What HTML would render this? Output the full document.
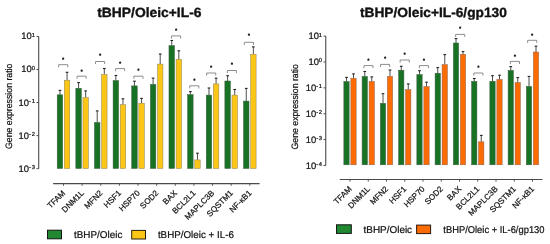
<!DOCTYPE html>
<html><head><meta charset="utf-8"><style>
html,body{margin:0;padding:0;background:#fff;width:550px;height:244px;overflow:hidden}
svg{display:block}
</style></head><body>
<svg width="550" height="244" viewBox="0 0 550 244" font-family='"Liberation Sans", Arial, Helvetica, sans-serif' text-rendering="geometricPrecision" fill="#111" stroke="#111" stroke-width="0.22">
<text x="97.2" y="17.1" font-size="13.4" font-weight="bold" stroke-width="0.35" textLength="104.3" lengthAdjust="spacingAndGlyphs">tBHP/Oleic+IL-6</text>
<text x="359.9" y="17.1" font-size="13.4" font-weight="bold" stroke-width="0.35" textLength="147.0" lengthAdjust="spacingAndGlyphs">tBHP/Oleic+IL-6/gp130</text>
<line x1="38.7" y1="36.4" x2="38.7" y2="168.68" stroke="#4a4a4a" stroke-width="1.1"/>
<line x1="36.50" y1="36.40" x2="38.7" y2="36.40" stroke="#4a4a4a" stroke-width="1"/>
<text x="35.0" y="39.40" text-anchor="end" font-size="9.4">10<tspan font-size="5.8" dy="-2.5">1</tspan></text>
<line x1="36.50" y1="69.47" x2="38.7" y2="69.47" stroke="#4a4a4a" stroke-width="1"/>
<text x="35.0" y="72.47" text-anchor="end" font-size="9.4">10<tspan font-size="5.8" dy="-2.5">0</tspan></text>
<line x1="36.50" y1="102.54" x2="38.7" y2="102.54" stroke="#4a4a4a" stroke-width="1"/>
<text x="35.0" y="105.54" text-anchor="end" font-size="9.4">10<tspan font-size="5.8" dy="-2.5">-<tspan dx="0.8">1</tspan></tspan></text>
<line x1="36.50" y1="135.61" x2="38.7" y2="135.61" stroke="#4a4a4a" stroke-width="1"/>
<text x="35.0" y="138.61" text-anchor="end" font-size="9.4">10<tspan font-size="5.8" dy="-2.5">-<tspan dx="0.8">2</tspan></tspan></text>
<line x1="36.50" y1="168.68" x2="38.7" y2="168.68" stroke="#4a4a4a" stroke-width="1"/>
<text x="35.0" y="171.68" text-anchor="end" font-size="9.4">10<tspan font-size="5.8" dy="-2.5">-<tspan dx="0.8">3</tspan></tspan></text>
<text transform="translate(12.2,106.3) rotate(-90)" x="-42.7" font-size="9.3" textLength="85.4" lengthAdjust="spacingAndGlyphs">Gene expression ratio</text>
<line x1="59.95" y1="90.40" x2="59.95" y2="94.80" stroke="#3a3a3a" stroke-width="0.9"/>
<line x1="58.60" y1="90.40" x2="61.30" y2="90.40" stroke="#222" stroke-width="1.1"/>
<rect x="57.20" y="94.80" width="5.50" height="73.70" fill="#187224" stroke="#3c5a40" stroke-width="0.5"/>
<line x1="67.05" y1="72.30" x2="67.05" y2="80.20" stroke="#3a3a3a" stroke-width="0.9"/>
<line x1="65.70" y1="72.30" x2="68.40" y2="72.30" stroke="#222" stroke-width="1.1"/>
<rect x="64.30" y="80.20" width="5.50" height="88.30" fill="#fcc616" stroke="#8a8060" stroke-width="0.5"/>
<path d="M58.65 67.30V64.70H67.75V67.30" fill="none" stroke="#808080" stroke-width="0.9"/>
<text x="63.20" y="61" text-anchor="middle" font-size="4.7" font-weight="bold" stroke="#222" stroke-width="0.45" text-rendering="geometricPrecision">*</text>
<line x1="78.58" y1="82.60" x2="78.58" y2="88.30" stroke="#3a3a3a" stroke-width="0.9"/>
<line x1="77.23" y1="82.60" x2="79.93" y2="82.60" stroke="#222" stroke-width="1.1"/>
<rect x="75.83" y="88.30" width="5.50" height="80.20" fill="#187224" stroke="#3c5a40" stroke-width="0.5"/>
<line x1="85.68" y1="90.90" x2="85.68" y2="97.60" stroke="#3a3a3a" stroke-width="0.9"/>
<line x1="84.33" y1="90.90" x2="87.03" y2="90.90" stroke="#222" stroke-width="1.1"/>
<rect x="82.93" y="97.60" width="5.50" height="70.90" fill="#fcc616" stroke="#8a8060" stroke-width="0.5"/>
<path d="M77.05 78.80V76.20H86.15V78.80" fill="none" stroke="#808080" stroke-width="0.9"/>
<text x="81.60" y="73" text-anchor="middle" font-size="4.7" font-weight="bold" stroke="#222" stroke-width="0.45" text-rendering="geometricPrecision">*</text>
<line x1="97.21" y1="110.90" x2="97.21" y2="122.50" stroke="#3a3a3a" stroke-width="0.9"/>
<line x1="95.86" y1="110.90" x2="98.56" y2="110.90" stroke="#222" stroke-width="1.1"/>
<rect x="94.46" y="122.50" width="5.50" height="46.00" fill="#187224" stroke="#3c5a40" stroke-width="0.5"/>
<line x1="104.31" y1="68.50" x2="104.31" y2="74.50" stroke="#3a3a3a" stroke-width="0.9"/>
<line x1="102.96" y1="68.50" x2="105.66" y2="68.50" stroke="#222" stroke-width="1.1"/>
<rect x="101.56" y="74.50" width="5.50" height="94.00" fill="#fcc616" stroke="#8a8060" stroke-width="0.5"/>
<path d="M95.55 64.10V61.50H104.65V64.10" fill="none" stroke="#808080" stroke-width="0.9"/>
<text x="100.10" y="57" text-anchor="middle" font-size="4.7" font-weight="bold" stroke="#222" stroke-width="0.45" text-rendering="geometricPrecision">*</text>
<line x1="115.84" y1="75.50" x2="115.84" y2="80.50" stroke="#3a3a3a" stroke-width="0.9"/>
<line x1="114.49" y1="75.50" x2="117.19" y2="75.50" stroke="#222" stroke-width="1.1"/>
<rect x="113.09" y="80.50" width="5.50" height="88.00" fill="#187224" stroke="#3c5a40" stroke-width="0.5"/>
<line x1="122.94" y1="98.80" x2="122.94" y2="104.70" stroke="#3a3a3a" stroke-width="0.9"/>
<line x1="121.59" y1="98.80" x2="124.29" y2="98.80" stroke="#222" stroke-width="1.1"/>
<rect x="120.19" y="104.70" width="5.50" height="63.80" fill="#fcc616" stroke="#8a8060" stroke-width="0.5"/>
<path d="M115.55 71.20V68.60H124.65V71.20" fill="none" stroke="#808080" stroke-width="0.9"/>
<text x="120.10" y="65" text-anchor="middle" font-size="4.7" font-weight="bold" stroke="#222" stroke-width="0.45" text-rendering="geometricPrecision">*</text>
<line x1="134.47" y1="81.20" x2="134.47" y2="85.90" stroke="#3a3a3a" stroke-width="0.9"/>
<line x1="133.12" y1="81.20" x2="135.82" y2="81.20" stroke="#222" stroke-width="1.1"/>
<rect x="131.72" y="85.90" width="5.50" height="82.60" fill="#187224" stroke="#3c5a40" stroke-width="0.5"/>
<line x1="141.57" y1="98.40" x2="141.57" y2="103.20" stroke="#3a3a3a" stroke-width="0.9"/>
<line x1="140.22" y1="98.40" x2="142.92" y2="98.40" stroke="#222" stroke-width="1.1"/>
<rect x="138.82" y="103.20" width="5.50" height="65.30" fill="#fcc616" stroke="#8a8060" stroke-width="0.5"/>
<path d="M133.85 78.80V76.20H142.95V78.80" fill="none" stroke="#808080" stroke-width="0.9"/>
<text x="138.40" y="72" text-anchor="middle" font-size="4.7" font-weight="bold" stroke="#222" stroke-width="0.45" text-rendering="geometricPrecision">*</text>
<line x1="153.10" y1="78.10" x2="153.10" y2="84.40" stroke="#3a3a3a" stroke-width="0.9"/>
<line x1="151.75" y1="78.10" x2="154.45" y2="78.10" stroke="#222" stroke-width="1.1"/>
<rect x="150.35" y="84.40" width="5.50" height="84.10" fill="#187224" stroke="#3c5a40" stroke-width="0.5"/>
<line x1="160.20" y1="54.00" x2="160.20" y2="64.10" stroke="#3a3a3a" stroke-width="0.9"/>
<line x1="158.85" y1="54.00" x2="161.55" y2="54.00" stroke="#222" stroke-width="1.1"/>
<rect x="157.45" y="64.10" width="5.50" height="104.40" fill="#fcc616" stroke="#8a8060" stroke-width="0.5"/>
<line x1="171.73" y1="40.50" x2="171.73" y2="45.60" stroke="#3a3a3a" stroke-width="0.9"/>
<line x1="170.38" y1="40.50" x2="173.08" y2="40.50" stroke="#222" stroke-width="1.1"/>
<rect x="168.98" y="45.60" width="5.50" height="122.90" fill="#187224" stroke="#3c5a40" stroke-width="0.5"/>
<line x1="178.83" y1="50.80" x2="178.83" y2="59.30" stroke="#3a3a3a" stroke-width="0.9"/>
<line x1="177.48" y1="50.80" x2="180.18" y2="50.80" stroke="#222" stroke-width="1.1"/>
<rect x="176.08" y="59.30" width="5.50" height="109.20" fill="#fcc616" stroke="#8a8060" stroke-width="0.5"/>
<path d="M171.55 38.50V35.90H180.65V38.50" fill="none" stroke="#808080" stroke-width="0.9"/>
<text x="176.10" y="32" text-anchor="middle" font-size="4.7" font-weight="bold" stroke="#222" stroke-width="0.45" text-rendering="geometricPrecision">*</text>
<line x1="190.36" y1="91.60" x2="190.36" y2="94.70" stroke="#3a3a3a" stroke-width="0.9"/>
<line x1="189.01" y1="91.60" x2="191.71" y2="91.60" stroke="#222" stroke-width="1.1"/>
<rect x="187.61" y="94.70" width="5.50" height="73.80" fill="#187224" stroke="#3c5a40" stroke-width="0.5"/>
<line x1="197.46" y1="153.20" x2="197.46" y2="159.90" stroke="#3a3a3a" stroke-width="0.9"/>
<line x1="196.11" y1="153.20" x2="198.81" y2="153.20" stroke="#222" stroke-width="1.1"/>
<rect x="194.71" y="159.90" width="5.50" height="8.60" fill="#fcc616" stroke="#8a8060" stroke-width="0.5"/>
<path d="M189.75 88.40V85.80H198.85V88.40" fill="none" stroke="#808080" stroke-width="0.9"/>
<text x="194.30" y="82" text-anchor="middle" font-size="4.7" font-weight="bold" stroke="#222" stroke-width="0.45" text-rendering="geometricPrecision">*</text>
<line x1="208.99" y1="88.00" x2="208.99" y2="95.10" stroke="#3a3a3a" stroke-width="0.9"/>
<line x1="207.64" y1="88.00" x2="210.34" y2="88.00" stroke="#222" stroke-width="1.1"/>
<rect x="206.24" y="95.10" width="5.50" height="73.40" fill="#187224" stroke="#3c5a40" stroke-width="0.5"/>
<line x1="216.09" y1="78.20" x2="216.09" y2="83.90" stroke="#3a3a3a" stroke-width="0.9"/>
<line x1="214.74" y1="78.20" x2="217.44" y2="78.20" stroke="#222" stroke-width="1.1"/>
<rect x="213.34" y="83.90" width="5.50" height="84.60" fill="#fcc616" stroke="#8a8060" stroke-width="0.5"/>
<path d="M206.65 75.60V73.00H215.75V75.60" fill="none" stroke="#808080" stroke-width="0.9"/>
<text x="211.20" y="69" text-anchor="middle" font-size="4.7" font-weight="bold" stroke="#222" stroke-width="0.45" text-rendering="geometricPrecision">*</text>
<line x1="227.62" y1="75.70" x2="227.62" y2="81.00" stroke="#3a3a3a" stroke-width="0.9"/>
<line x1="226.27" y1="75.70" x2="228.97" y2="75.70" stroke="#222" stroke-width="1.1"/>
<rect x="224.87" y="81.00" width="5.50" height="87.50" fill="#187224" stroke="#3c5a40" stroke-width="0.5"/>
<line x1="234.72" y1="89.50" x2="234.72" y2="95.10" stroke="#3a3a3a" stroke-width="0.9"/>
<line x1="233.37" y1="89.50" x2="236.07" y2="89.50" stroke="#222" stroke-width="1.1"/>
<rect x="231.97" y="95.10" width="5.50" height="73.40" fill="#fcc616" stroke="#8a8060" stroke-width="0.5"/>
<path d="M227.35 73.10V70.50H236.45V73.10" fill="none" stroke="#808080" stroke-width="0.9"/>
<text x="231.90" y="66" text-anchor="middle" font-size="4.7" font-weight="bold" stroke="#222" stroke-width="0.45" text-rendering="geometricPrecision">*</text>
<line x1="246.25" y1="88.40" x2="246.25" y2="101.10" stroke="#3a3a3a" stroke-width="0.9"/>
<line x1="244.90" y1="88.40" x2="247.60" y2="88.40" stroke="#222" stroke-width="1.1"/>
<rect x="243.50" y="101.10" width="5.50" height="67.40" fill="#187224" stroke="#3c5a40" stroke-width="0.5"/>
<line x1="253.35" y1="46.90" x2="253.35" y2="54.20" stroke="#3a3a3a" stroke-width="0.9"/>
<line x1="252.00" y1="46.90" x2="254.70" y2="46.90" stroke="#222" stroke-width="1.1"/>
<rect x="250.60" y="54.20" width="5.50" height="114.30" fill="#fcc616" stroke="#8a8060" stroke-width="0.5"/>
<path d="M244.35 44.90V42.30H253.45V44.90" fill="none" stroke="#808080" stroke-width="0.9"/>
<text x="248.90" y="37" text-anchor="middle" font-size="4.7" font-weight="bold" stroke="#222" stroke-width="0.45" text-rendering="geometricPrecision">*</text>
<line x1="53.1" y1="183.6" x2="259.6" y2="183.6" stroke="#4a4a4a" stroke-width="1.2"/>
<line x1="63.50" y1="183.6" x2="63.50" y2="185.79999999999998" stroke="#4a4a4a" stroke-width="0.9"/>
<text transform="translate(65.80,193.60) rotate(-45)" text-anchor="end" font-size="8.1">TFAM</text>
<line x1="82.13" y1="183.6" x2="82.13" y2="185.79999999999998" stroke="#4a4a4a" stroke-width="0.9"/>
<text transform="translate(84.43,193.60) rotate(-45)" text-anchor="end" font-size="8.1">DNM1L</text>
<line x1="100.76" y1="183.6" x2="100.76" y2="185.79999999999998" stroke="#4a4a4a" stroke-width="0.9"/>
<text transform="translate(103.06,193.60) rotate(-45)" text-anchor="end" font-size="8.1">MFN2</text>
<line x1="119.39" y1="183.6" x2="119.39" y2="185.79999999999998" stroke="#4a4a4a" stroke-width="0.9"/>
<text transform="translate(121.69,193.60) rotate(-45)" text-anchor="end" font-size="8.1">HSF1</text>
<line x1="138.02" y1="183.6" x2="138.02" y2="185.79999999999998" stroke="#4a4a4a" stroke-width="0.9"/>
<text transform="translate(140.32,193.60) rotate(-45)" text-anchor="end" font-size="8.1">HSP70</text>
<line x1="156.65" y1="183.6" x2="156.65" y2="185.79999999999998" stroke="#4a4a4a" stroke-width="0.9"/>
<text transform="translate(158.95,193.60) rotate(-45)" text-anchor="end" font-size="8.1">SOD2</text>
<line x1="175.28" y1="183.6" x2="175.28" y2="185.79999999999998" stroke="#4a4a4a" stroke-width="0.9"/>
<text transform="translate(177.58,193.60) rotate(-45)" text-anchor="end" font-size="8.1">BAX</text>
<line x1="193.91" y1="183.6" x2="193.91" y2="185.79999999999998" stroke="#4a4a4a" stroke-width="0.9"/>
<text transform="translate(196.21,193.60) rotate(-45)" text-anchor="end" font-size="8.1">BCL2L1</text>
<line x1="212.54" y1="183.6" x2="212.54" y2="185.79999999999998" stroke="#4a4a4a" stroke-width="0.9"/>
<text transform="translate(214.84,193.60) rotate(-45)" text-anchor="end" font-size="8.1">MAPLC3B</text>
<line x1="231.17" y1="183.6" x2="231.17" y2="185.79999999999998" stroke="#4a4a4a" stroke-width="0.9"/>
<text transform="translate(233.47,193.60) rotate(-45)" text-anchor="end" font-size="8.1">SQSTM1</text>
<line x1="249.80" y1="183.6" x2="249.80" y2="185.79999999999998" stroke="#4a4a4a" stroke-width="0.9"/>
<text transform="translate(252.10,193.60) rotate(-45)" text-anchor="end" font-size="8.1">NF-κB1</text>
<line x1="325.75" y1="36.1" x2="325.75" y2="165.50" stroke="#4a4a4a" stroke-width="1.1"/>
<line x1="323.55" y1="36.10" x2="325.75" y2="36.10" stroke="#4a4a4a" stroke-width="1"/>
<text x="322.1" y="39.10" text-anchor="end" font-size="9.4">10<tspan font-size="5.8" dy="-2.5">1</tspan></text>
<line x1="323.55" y1="61.98" x2="325.75" y2="61.98" stroke="#4a4a4a" stroke-width="1"/>
<text x="322.1" y="64.98" text-anchor="end" font-size="9.4">10<tspan font-size="5.8" dy="-2.5">0</tspan></text>
<line x1="323.55" y1="87.86" x2="325.75" y2="87.86" stroke="#4a4a4a" stroke-width="1"/>
<text x="322.1" y="90.86" text-anchor="end" font-size="9.4">10<tspan font-size="5.8" dy="-2.5">-<tspan dx="0.8">1</tspan></tspan></text>
<line x1="323.55" y1="113.74" x2="325.75" y2="113.74" stroke="#4a4a4a" stroke-width="1"/>
<text x="322.1" y="116.74" text-anchor="end" font-size="9.4">10<tspan font-size="5.8" dy="-2.5">-<tspan dx="0.8">2</tspan></tspan></text>
<line x1="323.55" y1="139.62" x2="325.75" y2="139.62" stroke="#4a4a4a" stroke-width="1"/>
<text x="322.1" y="142.62" text-anchor="end" font-size="9.4">10<tspan font-size="5.8" dy="-2.5">-<tspan dx="0.8">3</tspan></tspan></text>
<line x1="323.55" y1="165.50" x2="325.75" y2="165.50" stroke="#4a4a4a" stroke-width="1"/>
<text x="322.1" y="168.50" text-anchor="end" font-size="9.4">10<tspan font-size="5.8" dy="-2.5">-<tspan dx="0.8">4</tspan></tspan></text>
<text transform="translate(298.2,106.8) rotate(-90)" x="-42.7" font-size="9.3" textLength="85.4" lengthAdjust="spacingAndGlyphs">Gene expression ratio</text>
<line x1="346.50" y1="77.40" x2="346.50" y2="81.50" stroke="#3a3a3a" stroke-width="0.9"/>
<line x1="345.15" y1="77.40" x2="347.85" y2="77.40" stroke="#222" stroke-width="1.1"/>
<rect x="343.85" y="81.50" width="5.30" height="83.30" fill="#187224" stroke="#3c5a40" stroke-width="0.5"/>
<line x1="353.50" y1="73.90" x2="353.50" y2="78.30" stroke="#3a3a3a" stroke-width="0.9"/>
<line x1="352.15" y1="73.90" x2="354.85" y2="73.90" stroke="#222" stroke-width="1.1"/>
<rect x="350.85" y="78.30" width="5.30" height="86.50" fill="#fd6c02" stroke="#8a6050" stroke-width="0.5"/>
<line x1="364.75" y1="71.50" x2="364.75" y2="76.40" stroke="#3a3a3a" stroke-width="0.9"/>
<line x1="363.40" y1="71.50" x2="366.10" y2="71.50" stroke="#222" stroke-width="1.1"/>
<rect x="362.10" y="76.40" width="5.30" height="88.40" fill="#187224" stroke="#3c5a40" stroke-width="0.5"/>
<line x1="371.75" y1="76.90" x2="371.75" y2="81.50" stroke="#3a3a3a" stroke-width="0.9"/>
<line x1="370.40" y1="76.90" x2="373.10" y2="76.90" stroke="#222" stroke-width="1.1"/>
<rect x="369.10" y="81.50" width="5.30" height="83.30" fill="#fd6c02" stroke="#8a6050" stroke-width="0.5"/>
<path d="M363.95 68.20V65.60H373.05V68.20" fill="none" stroke="#808080" stroke-width="0.9"/>
<text x="368.50" y="62" text-anchor="middle" font-size="4.7" font-weight="bold" stroke="#222" stroke-width="0.45" text-rendering="geometricPrecision">*</text>
<line x1="383.00" y1="93.70" x2="383.00" y2="103.30" stroke="#3a3a3a" stroke-width="0.9"/>
<line x1="381.65" y1="93.70" x2="384.35" y2="93.70" stroke="#222" stroke-width="1.1"/>
<rect x="380.35" y="103.30" width="5.30" height="61.50" fill="#187224" stroke="#3c5a40" stroke-width="0.5"/>
<line x1="390.00" y1="70.00" x2="390.00" y2="76.40" stroke="#3a3a3a" stroke-width="0.9"/>
<line x1="388.65" y1="70.00" x2="391.35" y2="70.00" stroke="#222" stroke-width="1.1"/>
<rect x="387.35" y="76.40" width="5.30" height="88.40" fill="#fd6c02" stroke="#8a6050" stroke-width="0.5"/>
<path d="M380.55 67.00V64.40H389.65V67.00" fill="none" stroke="#808080" stroke-width="0.9"/>
<text x="385.10" y="60" text-anchor="middle" font-size="4.7" font-weight="bold" stroke="#222" stroke-width="0.45" text-rendering="geometricPrecision">*</text>
<line x1="401.25" y1="66.30" x2="401.25" y2="70.20" stroke="#3a3a3a" stroke-width="0.9"/>
<line x1="399.90" y1="66.30" x2="402.60" y2="66.30" stroke="#222" stroke-width="1.1"/>
<rect x="398.60" y="70.20" width="5.30" height="94.60" fill="#187224" stroke="#3c5a40" stroke-width="0.5"/>
<line x1="408.25" y1="83.90" x2="408.25" y2="89.70" stroke="#3a3a3a" stroke-width="0.9"/>
<line x1="406.90" y1="83.90" x2="409.60" y2="83.90" stroke="#222" stroke-width="1.1"/>
<rect x="405.60" y="89.70" width="5.30" height="75.10" fill="#fd6c02" stroke="#8a6050" stroke-width="0.5"/>
<path d="M400.15 62.60V60.00H409.25V62.60" fill="none" stroke="#808080" stroke-width="0.9"/>
<text x="404.70" y="56" text-anchor="middle" font-size="4.7" font-weight="bold" stroke="#222" stroke-width="0.45" text-rendering="geometricPrecision">*</text>
<line x1="419.50" y1="70.70" x2="419.50" y2="74.60" stroke="#3a3a3a" stroke-width="0.9"/>
<line x1="418.15" y1="70.70" x2="420.85" y2="70.70" stroke="#222" stroke-width="1.1"/>
<rect x="416.85" y="74.60" width="5.30" height="90.20" fill="#187224" stroke="#3c5a40" stroke-width="0.5"/>
<line x1="426.50" y1="82.20" x2="426.50" y2="86.70" stroke="#3a3a3a" stroke-width="0.9"/>
<line x1="425.15" y1="82.20" x2="427.85" y2="82.20" stroke="#222" stroke-width="1.1"/>
<rect x="423.85" y="86.70" width="5.30" height="78.10" fill="#fd6c02" stroke="#8a6050" stroke-width="0.5"/>
<path d="M419.35 68.20V65.60H428.45V68.20" fill="none" stroke="#808080" stroke-width="0.9"/>
<text x="423.90" y="62" text-anchor="middle" font-size="4.7" font-weight="bold" stroke="#222" stroke-width="0.45" text-rendering="geometricPrecision">*</text>
<line x1="437.75" y1="67.60" x2="437.75" y2="73.20" stroke="#3a3a3a" stroke-width="0.9"/>
<line x1="436.40" y1="67.60" x2="439.10" y2="67.60" stroke="#222" stroke-width="1.1"/>
<rect x="435.10" y="73.20" width="5.30" height="91.60" fill="#187224" stroke="#3c5a40" stroke-width="0.5"/>
<line x1="444.75" y1="54.60" x2="444.75" y2="64.60" stroke="#3a3a3a" stroke-width="0.9"/>
<line x1="443.40" y1="54.60" x2="446.10" y2="54.60" stroke="#222" stroke-width="1.1"/>
<rect x="442.10" y="64.60" width="5.30" height="100.20" fill="#fd6c02" stroke="#8a6050" stroke-width="0.5"/>
<line x1="456.00" y1="38.60" x2="456.00" y2="43.00" stroke="#3a3a3a" stroke-width="0.9"/>
<line x1="454.65" y1="38.60" x2="457.35" y2="38.60" stroke="#222" stroke-width="1.1"/>
<rect x="453.35" y="43.00" width="5.30" height="121.80" fill="#187224" stroke="#3c5a40" stroke-width="0.5"/>
<line x1="463.00" y1="51.60" x2="463.00" y2="54.30" stroke="#3a3a3a" stroke-width="0.9"/>
<line x1="461.65" y1="51.60" x2="464.35" y2="51.60" stroke="#222" stroke-width="1.1"/>
<rect x="460.35" y="54.30" width="5.30" height="110.50" fill="#fd6c02" stroke="#8a6050" stroke-width="0.5"/>
<path d="M455.65 37.00V34.40H464.75V37.00" fill="none" stroke="#808080" stroke-width="0.9"/>
<text x="460.20" y="30" text-anchor="middle" font-size="4.7" font-weight="bold" stroke="#222" stroke-width="0.45" text-rendering="geometricPrecision">*</text>
<line x1="474.25" y1="78.50" x2="474.25" y2="81.40" stroke="#3a3a3a" stroke-width="0.9"/>
<line x1="472.90" y1="78.50" x2="475.60" y2="78.50" stroke="#222" stroke-width="1.1"/>
<rect x="471.60" y="81.40" width="5.30" height="83.40" fill="#187224" stroke="#3c5a40" stroke-width="0.5"/>
<line x1="481.25" y1="135.40" x2="481.25" y2="141.80" stroke="#3a3a3a" stroke-width="0.9"/>
<line x1="479.90" y1="135.40" x2="482.60" y2="135.40" stroke="#222" stroke-width="1.1"/>
<rect x="478.60" y="141.80" width="5.30" height="23.00" fill="#fd6c02" stroke="#8a6050" stroke-width="0.5"/>
<path d="M473.85 75.60V73.00H482.95V75.60" fill="none" stroke="#808080" stroke-width="0.9"/>
<text x="478.40" y="69" text-anchor="middle" font-size="4.7" font-weight="bold" stroke="#222" stroke-width="0.45" text-rendering="geometricPrecision">*</text>
<line x1="492.50" y1="75.70" x2="492.50" y2="81.30" stroke="#3a3a3a" stroke-width="0.9"/>
<line x1="491.15" y1="75.70" x2="493.85" y2="75.70" stroke="#222" stroke-width="1.1"/>
<rect x="489.85" y="81.30" width="5.30" height="83.50" fill="#187224" stroke="#3c5a40" stroke-width="0.5"/>
<line x1="499.50" y1="75.20" x2="499.50" y2="79.50" stroke="#3a3a3a" stroke-width="0.9"/>
<line x1="498.15" y1="75.20" x2="500.85" y2="75.20" stroke="#222" stroke-width="1.1"/>
<rect x="496.85" y="79.50" width="5.30" height="85.30" fill="#fd6c02" stroke="#8a6050" stroke-width="0.5"/>
<line x1="510.75" y1="66.60" x2="510.75" y2="70.40" stroke="#3a3a3a" stroke-width="0.9"/>
<line x1="509.40" y1="66.60" x2="512.10" y2="66.60" stroke="#222" stroke-width="1.1"/>
<rect x="508.10" y="70.40" width="5.30" height="94.40" fill="#187224" stroke="#3c5a40" stroke-width="0.5"/>
<line x1="517.75" y1="77.60" x2="517.75" y2="82.50" stroke="#3a3a3a" stroke-width="0.9"/>
<line x1="516.40" y1="77.60" x2="519.10" y2="77.60" stroke="#222" stroke-width="1.1"/>
<rect x="515.10" y="82.50" width="5.30" height="82.30" fill="#fd6c02" stroke="#8a6050" stroke-width="0.5"/>
<path d="M510.35 64.00V61.40H519.45V64.00" fill="none" stroke="#808080" stroke-width="0.9"/>
<text x="514.90" y="58" text-anchor="middle" font-size="4.7" font-weight="bold" stroke="#222" stroke-width="0.45" text-rendering="geometricPrecision">*</text>
<line x1="529.00" y1="76.40" x2="529.00" y2="86.40" stroke="#3a3a3a" stroke-width="0.9"/>
<line x1="527.65" y1="76.40" x2="530.35" y2="76.40" stroke="#222" stroke-width="1.1"/>
<rect x="526.35" y="86.40" width="5.30" height="78.40" fill="#187224" stroke="#3c5a40" stroke-width="0.5"/>
<line x1="536.00" y1="46.20" x2="536.00" y2="52.00" stroke="#3a3a3a" stroke-width="0.9"/>
<line x1="534.65" y1="46.20" x2="537.35" y2="46.20" stroke="#222" stroke-width="1.1"/>
<rect x="533.35" y="52.00" width="5.30" height="112.80" fill="#fd6c02" stroke="#8a6050" stroke-width="0.5"/>
<path d="M527.65 42.90V40.30H536.75V42.90" fill="none" stroke="#808080" stroke-width="0.9"/>
<text x="532.20" y="37" text-anchor="middle" font-size="4.7" font-weight="bold" stroke="#222" stroke-width="0.45" text-rendering="geometricPrecision">*</text>
<line x1="339.7" y1="179.5" x2="542.5" y2="179.5" stroke="#4a4a4a" stroke-width="1.2"/>
<line x1="350.00" y1="179.5" x2="350.00" y2="181.7" stroke="#4a4a4a" stroke-width="0.9"/>
<text transform="translate(352.30,189.50) rotate(-45)" text-anchor="end" font-size="8.1">TFAM</text>
<line x1="368.25" y1="179.5" x2="368.25" y2="181.7" stroke="#4a4a4a" stroke-width="0.9"/>
<text transform="translate(370.55,189.50) rotate(-45)" text-anchor="end" font-size="8.1">DNM1L</text>
<line x1="386.50" y1="179.5" x2="386.50" y2="181.7" stroke="#4a4a4a" stroke-width="0.9"/>
<text transform="translate(388.80,189.50) rotate(-45)" text-anchor="end" font-size="8.1">MFN2</text>
<line x1="404.75" y1="179.5" x2="404.75" y2="181.7" stroke="#4a4a4a" stroke-width="0.9"/>
<text transform="translate(407.05,189.50) rotate(-45)" text-anchor="end" font-size="8.1">HSF1</text>
<line x1="423.00" y1="179.5" x2="423.00" y2="181.7" stroke="#4a4a4a" stroke-width="0.9"/>
<text transform="translate(425.30,189.50) rotate(-45)" text-anchor="end" font-size="8.1">HSP70</text>
<line x1="441.25" y1="179.5" x2="441.25" y2="181.7" stroke="#4a4a4a" stroke-width="0.9"/>
<text transform="translate(443.55,189.50) rotate(-45)" text-anchor="end" font-size="8.1">SOD2</text>
<line x1="459.50" y1="179.5" x2="459.50" y2="181.7" stroke="#4a4a4a" stroke-width="0.9"/>
<text transform="translate(461.80,189.50) rotate(-45)" text-anchor="end" font-size="8.1">BAX</text>
<line x1="477.75" y1="179.5" x2="477.75" y2="181.7" stroke="#4a4a4a" stroke-width="0.9"/>
<text transform="translate(480.05,189.50) rotate(-45)" text-anchor="end" font-size="8.1">BCL2L1</text>
<line x1="496.00" y1="179.5" x2="496.00" y2="181.7" stroke="#4a4a4a" stroke-width="0.9"/>
<text transform="translate(498.30,189.50) rotate(-45)" text-anchor="end" font-size="8.1">MAPLC3B</text>
<line x1="514.25" y1="179.5" x2="514.25" y2="181.7" stroke="#4a4a4a" stroke-width="0.9"/>
<text transform="translate(516.55,189.50) rotate(-45)" text-anchor="end" font-size="8.1">SQSTM1</text>
<line x1="532.50" y1="179.5" x2="532.50" y2="181.7" stroke="#4a4a4a" stroke-width="0.9"/>
<text transform="translate(534.80,189.50) rotate(-45)" text-anchor="end" font-size="8.1">NF-κB1</text>
<rect x="47.5" y="230.2" width="14" height="8.6" fill="#208830" stroke="#151515" stroke-width="1"/>
<text x="74.0" y="238.0" font-size="9.9" textLength="48.4" lengthAdjust="spacingAndGlyphs">tBHP/Oleic</text>
<rect x="131.7" y="230.4" width="13.8" height="8.6" fill="#fcc616" stroke="#2a2210" stroke-width="1"/>
<text x="157.9" y="238.0" font-size="9.9" textLength="76.0" lengthAdjust="spacingAndGlyphs">tBHP/Oleic + IL-6</text>
<rect x="336.5" y="224.8" width="14.8" height="8.6" fill="#208830" stroke="#151515" stroke-width="1"/>
<text x="363.5" y="232.8" font-size="9.9" textLength="48.6" lengthAdjust="spacingAndGlyphs">tBHP/Oleic</text>
<rect x="416.6" y="225.1" width="14" height="8.5" fill="#fd6c02" stroke="#2a1a10" stroke-width="1"/>
<text x="443.3" y="232.8" font-size="9.9" textLength="101.2" lengthAdjust="spacingAndGlyphs">tBHP/Oleic + IL-6/gp130</text>
</svg>
</body></html>
